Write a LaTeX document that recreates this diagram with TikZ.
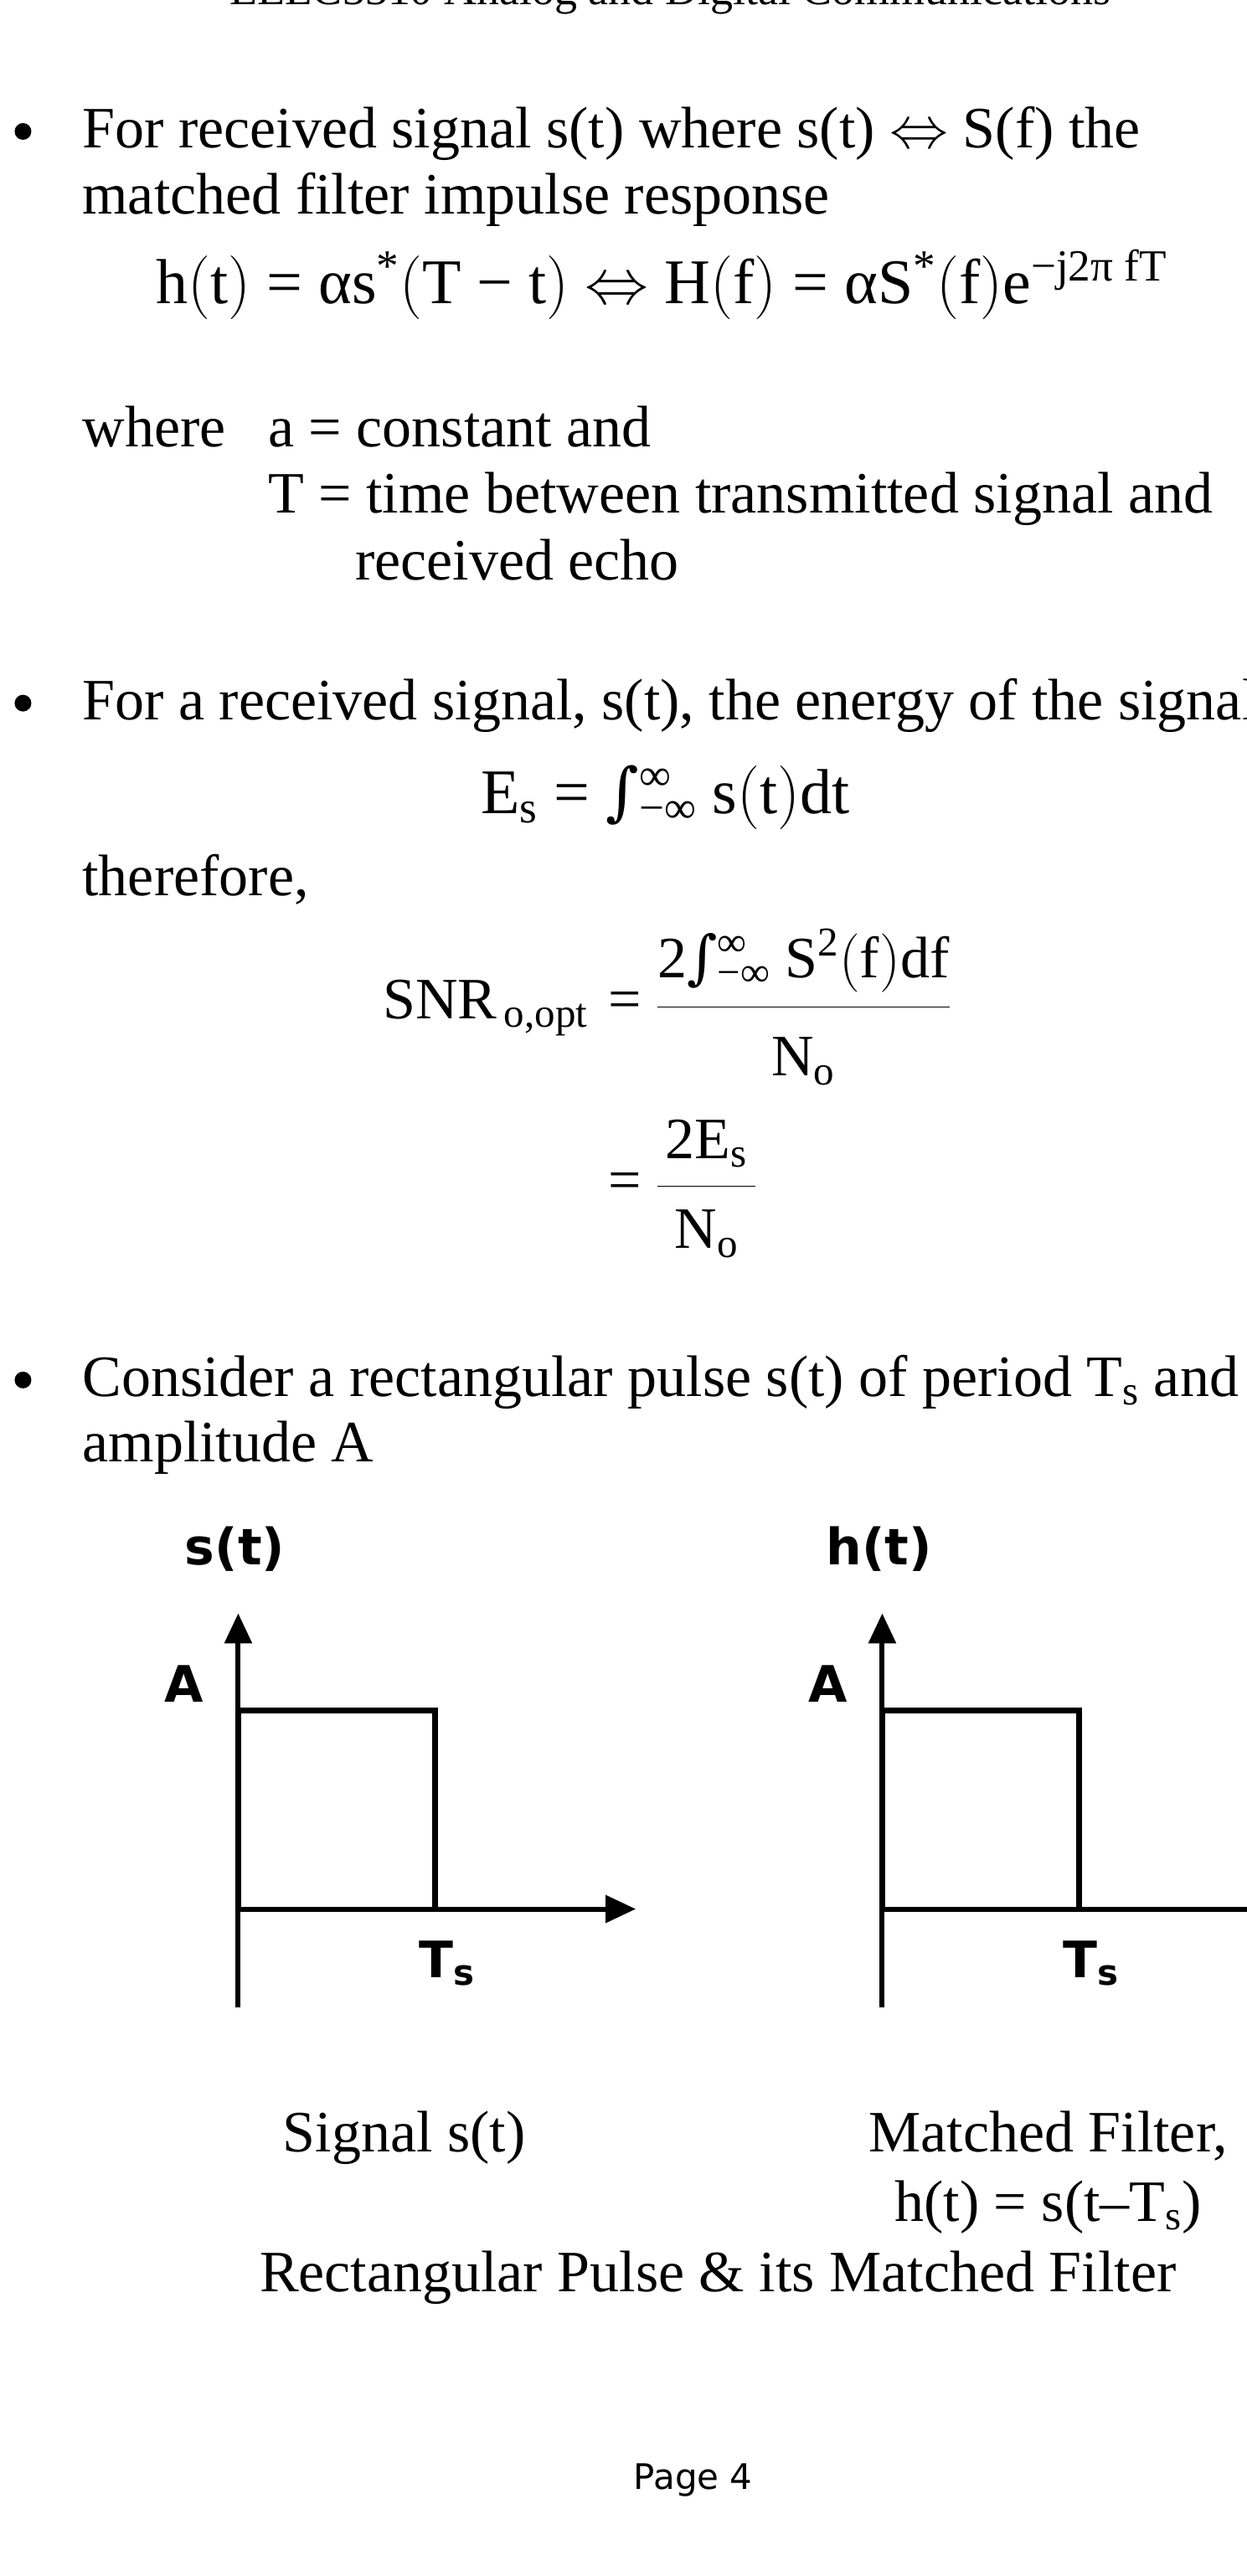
\documentclass[tikz,border=0pt]{standalone}
\usepackage{fix-cm}
\usepackage{fontspec}
\setmainfont{Liberation Serif}
\setsansfont{DejaVu Sans}
\newfontfamily\symfont{DejaVu Serif}
\usetikzlibrary{arrows.meta,positioning}
\newcommand{\bodysize}{\fontsize{35}{42}\selectfont}
\newcommand{\intinf}{{\symfont ∫}\rlap{\textsuperscript{∞}}\textsubscript{−∞}}
\begin{document}
\begin{tikzpicture}[x=0.981pt,y=-0.981pt,
  txt/.style={anchor=base west,inner sep=0pt,font=\bodysize},
  ctr/.style={anchor=base,inner sep=0pt,font=\bodysize},
  lbl/.style={inner sep=0pt,font=\sffamily\bfseries\fontsize{30}{34}\selectfont},
  bul/.style={circle,fill=black,inner sep=0pt,minimum size=10pt},
  axis/.style={line width=3pt,-{Triangle[length=18pt,width=16pt]}},
  pulse/.style={line width=3.5pt}]
  \useasboundingbox[clip] (0,0) rectangle (759,1568);
  % header
  \node[ctr,font=\fontsize{27}{30}\selectfont] (head) at (408,3) {EELC3310 Analog and Digital Communications};
  % first bullet
  \node[bul] (b1) at (14,80) {};
  \node[txt] (l1) at (50,90) {For received signal s(t) where s(t) $\Leftrightarrow$ S(f) the};
  \node[txt] (l2) at (50,130) {matched filter impulse response};
  \node[txt,font=\fontsize{38}{44}\selectfont] (eq1) at (95,185)
    {h$\big($t$\big)$ = αs\textsuperscript{*}$\big($T − t$\big)$ $\Leftrightarrow$ H$\big($f$\big)$ = αS\textsuperscript{*}$\big($f$\big)$e\textsuperscript{−j2π fT}};
  \node[txt] (wh) at (50,272) {where};
  \node[txt] (wa) at (163,272) {a = constant and};
  \node[txt] (wT) at (163,312) {T = time between transmitted signal and};
  \node[txt] (we) at (216,353) {received echo};
  % second bullet
  \node[bul] (b2) at (14,428) {};
  \node[txt] (l3) at (50,438) {For a received signal, s(t), the energy of the signal};
  \node[ctr,font=\fontsize{38}{44}\selectfont] (es) at (405,495)
    {E\textsubscript{s} = \intinf\ s$\big($t$\big)$dt};
  \node[txt] (th) at (50,545) {therefore,};
  \node[txt] (snr) at (233,620) {SNR\textsubscript{\,o,opt}};
  \node[txt] (eqa) at (370,620) {=};
  \node[ctr] (numa) at (489,595) {2\intinf\ S\textsuperscript{2}$\big($f$\big)$df};
  \node[ctr] (dena) at (489,655) {N\textsubscript{o}};
  \draw[line width=0.8pt] (400,613) -- (578,613);
  \node[txt] (eqb) at (370,730) {=};
  \node[ctr] (numb) at (430,705) {2E\textsubscript{s}};
  \node[ctr] (denb) at (430,760) {N\textsubscript{o}};
  \draw[line width=0.8pt] (400,722) -- (460,722);
  % third bullet
  \node[bul] (b3) at (14,840) {};
  \node[txt] (l4) at (50,850) {Consider a rectangular pulse s(t) of period T\textsubscript{s} and};
  \node[txt] (l5) at (50,890) {amplitude A};
  % signal s(t)
  \coordinate (so) at (145,1162);
  \coordinate (sb) at (145,1222);
  \coordinate (st) at (145,982);
  \coordinate (sx) at (387,1162);
  \draw[axis] (sb) -- (st);
  \draw[axis] (so) -- (sx);
  \draw[pulse] (so) |- (265,1041) -- (265,1162);
  \node[lbl] (sl) at (143,943) {s(t)};
  \node[lbl] (sa) at (112,1025) {A};
  \node[lbl] (sT) at (272,1195) {T\textsubscript{s}};
  % matched filter h(t)
  \coordinate (ho) at (537,1162);
  \coordinate (hb) at (537,1222);
  \coordinate (ht) at (537,982);
  \coordinate (hx) at (779,1162);
  \draw[axis] (hb) -- (ht);
  \draw[axis] (ho) -- (hx);
  \draw[pulse] (ho) |- (657,1041) -- (657,1162);
  \node[lbl] (hl) at (535,943) {h(t)};
  \node[lbl] (ha) at (504,1025) {A};
  \node[lbl] (hT) at (664,1195) {T\textsubscript{s}};
  % captions
  \node[ctr] (cs) at (246,1310) {Signal s(t)};
  \node[ctr] (cm) at (638,1310) {Matched Filter,};
  \node[ctr] (ch) at (638,1352) {h(t) = s(t–T\textsubscript{s})};
  \node[ctr] (cap) at (437,1395) {Rectangular Pulse \& its Matched Filter};
  \node[ctr,font=\sffamily\fontsize{21}{24}\selectfont] (pg) at (422,1515) {Page 4};
\end{tikzpicture}
\end{document}
